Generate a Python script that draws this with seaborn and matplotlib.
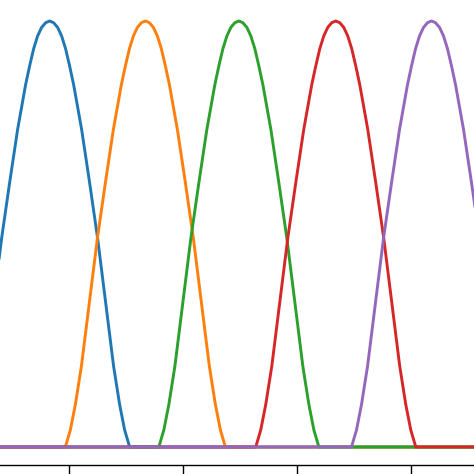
import numpy as np
import pandas as pd
import seaborn as sns
import matplotlib
matplotlib.use("Agg")
import matplotlib.pyplot as plt

# peak positions of the five bumps (x units, ticks sit at 1..4)
centers = [0.83, 1.67, 2.49, 3.34, 4.18]
names = ["a", "b", "c", "d", "e"]

# shape of one bump: offset from peak -> height
offsets = [-0.702, -0.658, -0.614, -0.561, -0.491, -0.421, -0.351, -0.281, -0.211, -0.175, -0.140,
           -0.105, -0.070, -0.035, 0.0, 0.035, 0.070, 0.105, 0.140, 0.175, 0.211, 0.281, 0.351,
           0.421, 0.491, 0.561, 0.614, 0.658, 0.702]
heights = [0.0, 0.04, 0.10, 0.19, 0.34, 0.49, 0.62, 0.745, 0.85, 0.895, 0.935,
           0.965, 0.985, 0.996, 1.0, 0.996, 0.985, 0.965, 0.935, 0.895, 0.85, 0.745, 0.62,
           0.49, 0.34, 0.19, 0.10, 0.04, 0.0]

x_start, x_end = 0.0, 5.0

rows = []
for name, c in zip(names, centers):
    xs = [x_start] + [c + o for o in offsets] + [x_end]
    ys = [0.0] + heights + [0.0]
    for xv, yv in zip(xs, ys):
        rows.append({"x": xv, "y": yv, "series": name})
df = pd.DataFrame(rows)

sns.set_style("ticks")
fig = plt.figure(figsize=(4.74, 4.74), dpi=100)
ax = fig.add_axes([0, 9 / 474, 1, 465 / 474])

sns.lineplot(data=df, x="x", y="y", hue="series", hue_order=names,
             palette=sns.color_palette("tab10", 5), linewidth=2.1,
             legend=False, ax=ax, estimator=None)

ax.set_xlim(1 - 69 / 114, 1 + 405 / 114)
ax.set_ylim(-18 / 426, 1 + 21 / 426)
ax.set_xticks([1, 2, 3, 4])
ax.set_xticklabels([])
ax.set_yticks([])
ax.set_xlabel("")
ax.set_ylabel("")
ax.tick_params(axis="x", length=8, width=1, color="black")
sns.despine(ax=ax, left=True)
ax.spines["bottom"].set_color("black")
ax.spines["bottom"].set_linewidth(1.0)

fig.savefig("out.png", dpi=100)
